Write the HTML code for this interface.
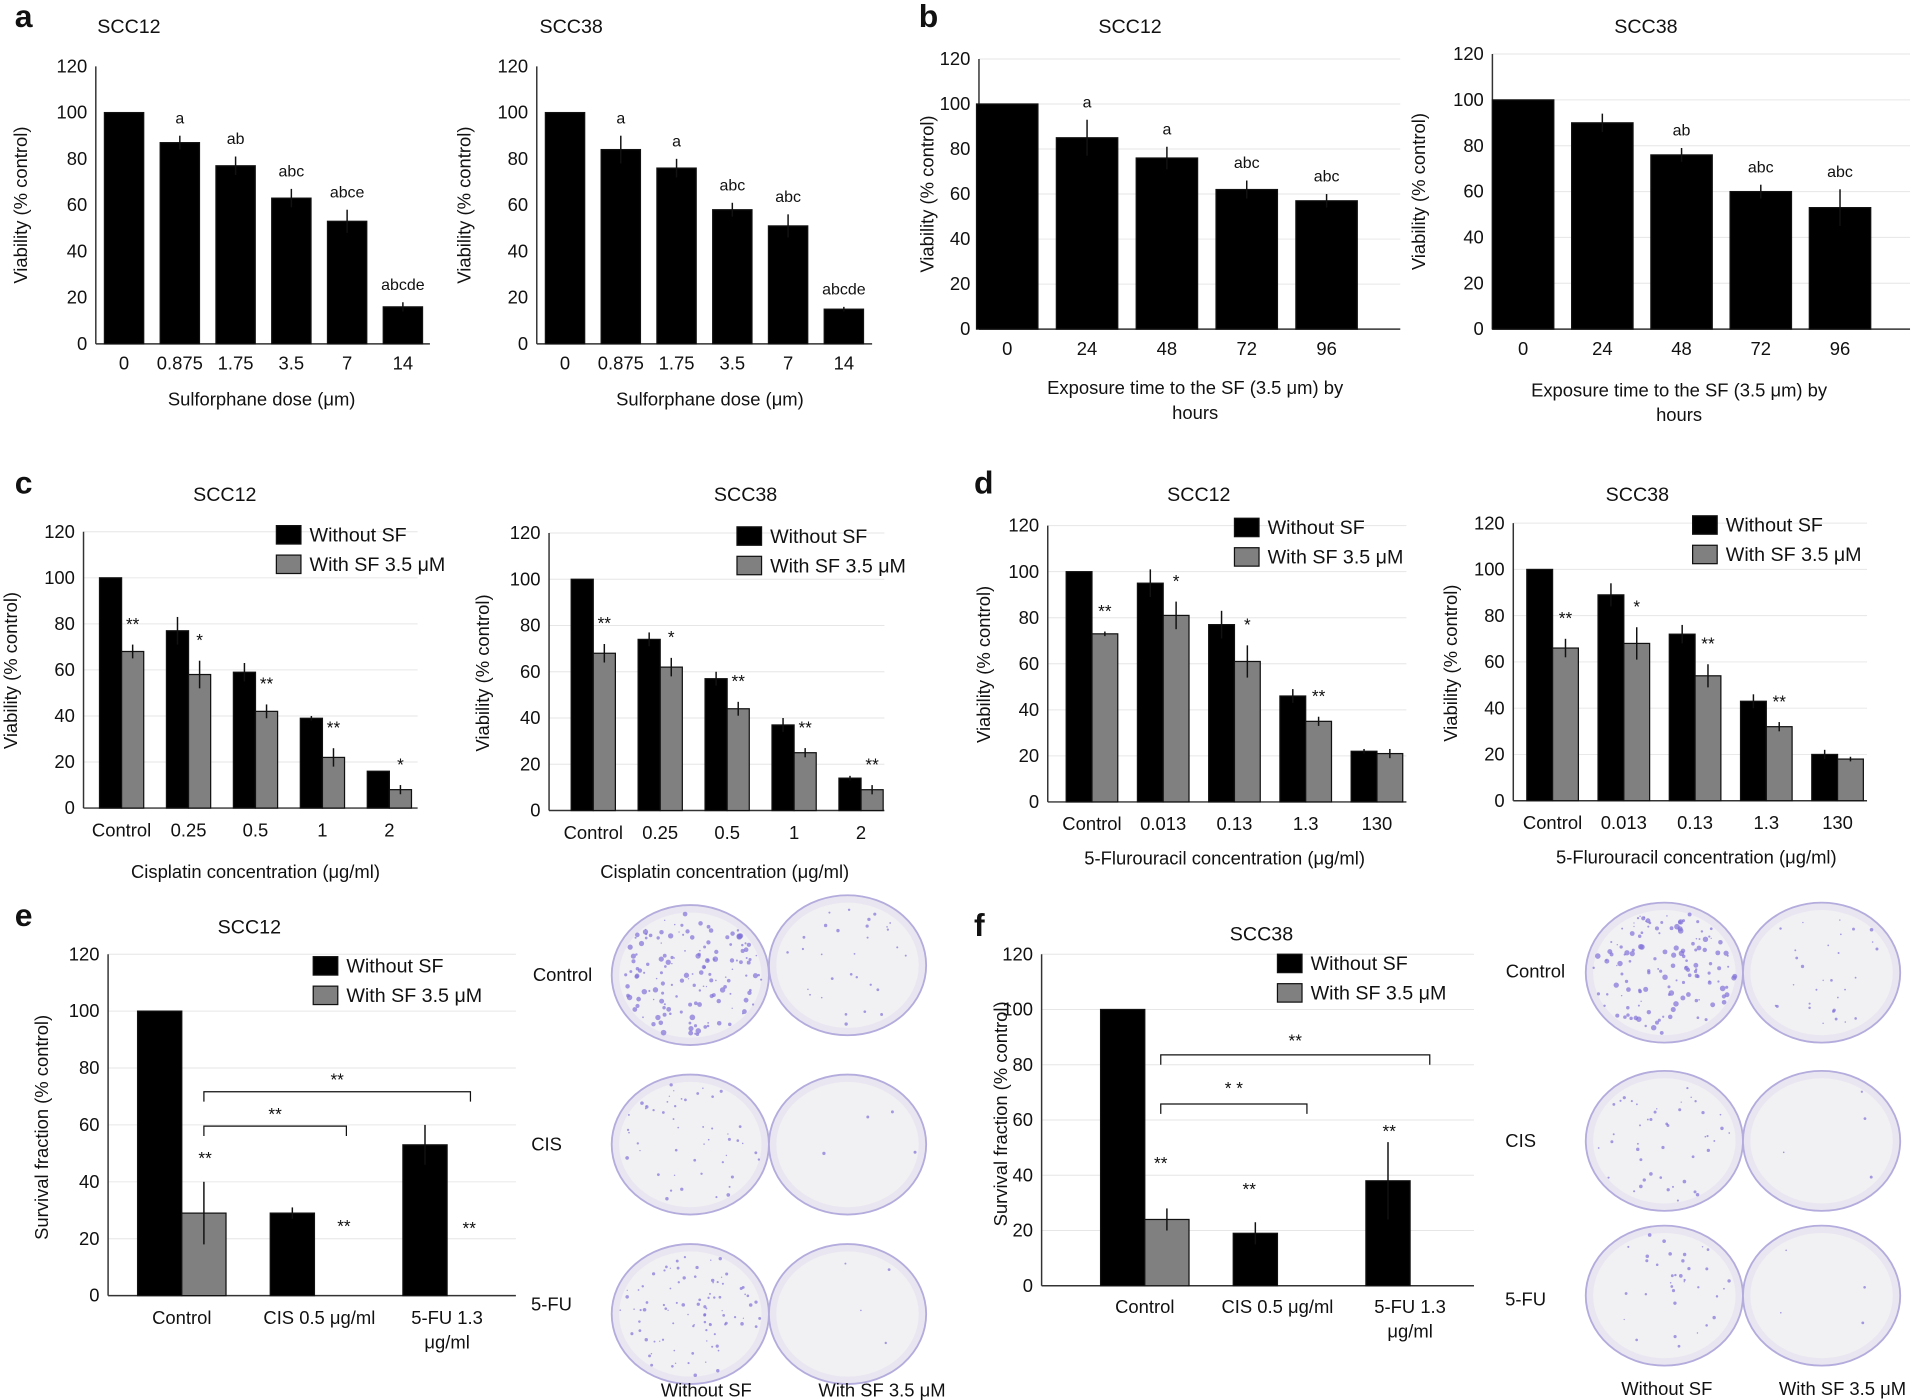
<!DOCTYPE html>
<html><head><meta charset="utf-8"><style>
html,body{margin:0;padding:0;background:#fff;}
svg{display:block;font-family:"Liberation Sans",sans-serif;}
</style></head><body>
<svg id="fig" width="1926" height="1400" viewBox="0 0 1568 1140" preserveAspectRatio="none" xmlns="http://www.w3.org/2000/svg"></svg>
<script>
// ---- data ----
const aCats=["0","0.875","1.75","3.5","7","14"];
const a1Vals=[100,87,77,63,53,16];const a1Err=[0,3,4,4,5,2];const a1Lab=["","a","ab","abc","abce","abcde"];
const a2Vals=[100,84,76,58,51,15];const a2Err=[0,6,4,3,5,1];const a2Lab=["","a","a","abc","abc","abcde"];
const bCats=["0","24","48","72","96"];
const b1Vals=[100,85,76,62,57];const b1Err=[0,8,5,4,3];const b1Lab=["","a","a","abc","abc"];
const b2Vals=[100,90,76,60,53];const b2Err=[0,4,3,3,8];const b2Lab=["","","ab","abc","abc"];
const cCats=["Control","0.25","0.5","1","2"];
const c1Without=[100,77,59,39,16];const c1WithoutErr=[0,6,4,1,0];
const c1With=[68,58,42,22,8];const c1WithErr=[3,6,3,4,2];const c1Stars=["**","*","**","**","*"];
const c2Without=[100,74,57,37,14];const c2WithoutErr=[0,3,3,3,1];
const c2With=[68,62,44,25,9];const c2WithErr=[4,4,3,2,2];const c2Stars=["**","*","**","**","**"];
const dCats=["Control","0.013","0.13","1.3","130"];
const d1Without=[100,95,77,46,22];const d1WithoutErr=[0,6,6,3,1];
const d1With=[73,81,61,35,21];const d1WithErr=[1,6,7,2,2];const d1Stars=["**","*","*","**",""];
const d2Without=[100,89,72,43,20];const d2WithoutErr=[0,5,4,3,2];
const d2With=[66,68,54,32,18];const d2WithErr=[4,7,5,2,1];const d2Stars=["**","*","**","**",""];
const eCats=["Control","CIS 0.5 μg/ml","5-FU 1.3"];
const eWithout=[100,29,53];const eWithoutErr=[0,2,7];
const eWith=[29,0,0];const eWithErr=[11,0,0];const eStars=["**","**","**"];
const fCats=["Control","CIS 0.5 μg/ml","5-FU 1.3"];
const fWithout=[100,19,38];const fWithoutErr=[0,4,14];
const fWith=[24,0,0];const fWithErr=[4,0,0];
const ticks=[0,20,40,60,80,100,120];

const NS="http://www.w3.org/2000/svg";const svg=document.getElementById('fig');
function el(t,at,parent){const e=document.createElementNS(NS,t);for(const k in at)e.setAttribute(k,at[k]);(parent||svg).appendChild(e);return e;}
function txt(x,y,s,size,name,opts){opts=opts||{};const t=el('text',{x:x,y:y,'font-size':size,'text-anchor':opts.anchor||'middle',fill:'#111','font-weight':opts.bold?'bold':'normal'});if(opts.rot)t.setAttribute('transform','rotate(-90 '+x+' '+y+')');t.textContent=s;


return t;}

function axes(c){
  const g=el('g',{});
  
  
  c.g=g;c.y=v=>c.y0-(c.y0-c.y120)*v/120;
  ticks.forEach(t=>{
    if(t>0){const l=el('line',{x1:c.ax,x2:c.xEnd,y1:c.y(t),y2:c.y(t),stroke:c.grid||'#e6e6e6','stroke-width':0.8},g);
    
    }
    txt(c.ax-7,c.y(t)+5,String(t),15,'y-tick-label',{anchor:'end'});
  });
  const ya=el('line',{x1:c.ax,x2:c.ax,y1:c.y120,y2:c.y0,stroke:'#333','stroke-width':1.2},g);
  
  
  const xa=el('line',{x1:c.ax,x2:c.xEnd,y1:c.y0,y2:c.y0,stroke:'#333','stroke-width':1.2},g);
  
  
}
function bar(c,x,w,v,err,fill,name){
  if(v<=0)return;
  const r=el('rect',{x:x,y:c.y(v),width:w,height:c.y0-c.y(v),fill:fill,stroke:'#111','stroke-width':1},c.g);
  
  
  if(err>0){const l=el('line',{x1:x+w/2,x2:x+w/2,y1:c.y(v+err),y2:c.y(Math.max(v-err,0)),stroke:'#111','stroke-width':1.2},c.g);
  
  }
}
function single(c,cats,vals,errs,labs){
  axes(c);
  cats.forEach((cat,i)=>{const cx=c.start+i*c.step;
    bar(c,cx-c.w/2,c.w,vals[i],errs[i],'#000','bar-'+cat);
    txt(cx,c.y0+21,cat,15,'x-tick-label');
    if(labs[i])txt(cx,c.y(vals[i]+errs[i])-10,labs[i],13,'significance-label');
  });
}
function grouped(c,cats,v1,e1,v2,e2,stars){
  axes(c);
  cats.forEach((cat,i)=>{const cx=c.start+i*c.step;
    bar(c,cx-c.w,c.w,v1[i],e1[i],'#000','bar-without-sf-'+i);
    bar(c,cx,c.w,v2[i],e2[i],'#808080','bar-with-sf-'+i);
    if(c.labels!==false)txt(cx,c.y0+23,cat,15,'x-tick-label');
    if(stars&&stars[i])txt(cx+c.w/2,c.y(v2[i]+e2[i])-12,stars[i],14,'significance-star');
  });
}
function legend(x,y,name){
  const g=el('g',{});
  
  
  el('rect',{x:x,y:y-12,width:20,height:15,fill:'#000',stroke:'#111'},g);
  txt(x+27,y+1,'Without SF',16,'legend-without-sf',{anchor:'start'});
  el('rect',{x:x,y:y+12,width:20,height:15,fill:'#808080',stroke:'#111'},g);
  txt(x+27,y+25,'With SF 3.5 μM',16,'legend-with-sf',{anchor:'start'});
}
function bracket(x1,x2,y,label,ly,name){
  const p=el('path',{d:`M${x1} ${y+8}V${y}H${x2}V${y+8}`,fill:'none',stroke:'#111','stroke-width':1});
  
  
  txt((x1+x2)/2,ly,label,14,'bracket-significance');
}

// panel letters
[['a',12,22],['b',748,22],['c',12,402],['d',793,402],['e',12,754],['f',793,762]].forEach(p=>txt(p[1],p[2],p[0],26,'panel-letter-'+p[0],{anchor:'start',bold:true}));

// a
txt(105,27,'SCC12',16,'chart-title');txt(465,27,'SCC38',16,'chart-title');
txt(22,167,'Viability (% control)',15,'y-axis-title',{rot:true});
txt(383,167,'Viability (% control)',15,'y-axis-title',{rot:true});
single({name:'chart-a-scc12',ax:78,y0:280,y120:54,xEnd:350,start:101,step:45.4,w:32,grid:'#fff'},aCats,a1Vals,a1Err,a1Lab);
single({name:'chart-a-scc38',ax:437,y0:280,y120:54,xEnd:710,start:460,step:45.4,w:32,grid:'#fff'},aCats,a2Vals,a2Err,a2Lab);
txt(213,330,'Sulforphane dose (μm)',15,'x-axis-title');txt(578,330,'Sulforphane dose (μm)',15,'x-axis-title');

// b
txt(920,27,'SCC12',16,'chart-title');txt(1340,27,'SCC38',16,'chart-title');
txt(760,158,'Viability (% control)',15,'y-axis-title',{rot:true});
txt(1160,156,'Viability (% control)',15,'y-axis-title',{rot:true});
single({name:'chart-b-scc12',ax:797,y0:268,y120:48,xEnd:1140,start:820,step:65,w:50},bCats,b1Vals,b1Err,b1Lab);
single({name:'chart-b-scc38',ax:1215,y0:268,y120:44,xEnd:1555,start:1240,step:64.5,w:50},bCats,b2Vals,b2Err,b2Lab);
txt(973,321,'Exposure time to the SF (3.5 μm) by',15,'x-axis-title');txt(973,341,'hours',15,'x-axis-title');
txt(1367,323,'Exposure time to the SF (3.5 μm) by',15,'x-axis-title');txt(1367,343,'hours',15,'x-axis-title');

// c
txt(183,408,'SCC12',16,'chart-title');txt(607,408,'SCC38',16,'chart-title');
txt(14,546,'Viability (% control)',15,'y-axis-title',{rot:true});
txt(398,548,'Viability (% control)',15,'y-axis-title',{rot:true});
grouped({name:'chart-c-scc12',ax:68,y0:658,y120:433,xEnd:340,start:99,step:54.5,w:18},cCats,c1Without,c1WithoutErr,c1With,c1WithErr,c1Stars);
grouped({name:'chart-c-scc38',ax:447,y0:660,y120:434,xEnd:720,start:483,step:54.5,w:18},cCats,c2Without,c2WithoutErr,c2With,c2WithErr,c2Stars);
legend(225,440,'legend-c-scc12');legend(600,441,'legend-c-scc38');
txt(208,715,'Cisplatin concentration (μg/ml)',15,'x-axis-title');txt(590,715,'Cisplatin concentration (μg/ml)',15,'x-axis-title');

// d
txt(976,408,'SCC12',16,'chart-title');txt(1333,408,'SCC38',16,'chart-title');
txt(806,541,'Viability (% control)',15,'y-axis-title',{rot:true});
txt(1186,540,'Viability (% control)',15,'y-axis-title',{rot:true});
grouped({name:'chart-d-scc12',ax:853,y0:653,y120:428,xEnd:1145,start:889,step:58,w:21},dCats,d1Without,d1WithoutErr,d1With,d1WithErr,d1Stars);
grouped({name:'chart-d-scc38',ax:1232,y0:652,y120:426,xEnd:1520,start:1264,step:58,w:21},dCats,d2Without,d2WithoutErr,d2With,d2WithErr,d2Stars);
legend(1005,434,'legend-d-scc12');legend(1378,432,'legend-d-scc38');
txt(997,704,'5-Flurouracil concentration (μg/ml)',15,'x-axis-title');txt(1381,703,'5-Flurouracil concentration (μg/ml)',15,'x-axis-title');

// e
txt(203,760,'SCC12',16,'chart-title');
txt(39,918,'Survival fraction (% control)',15,'y-axis-title',{rot:true});
grouped({name:'chart-e-scc12',ax:88,y0:1055,y120:777,xEnd:420,start:148,step:108,w:36,labels:false},eCats,eWithout,eWithoutErr,eWith,eWithErr,null);
txt(148,1078,'Control',15,'x-tick-label');txt(260,1078,'CIS 0.5 μg/ml',15,'x-tick-label');txt(364,1078,'5-FU 1.3',15,'x-tick-label');txt(364,1098,'μg/ml',15,'x-tick-label');
txt(167,948,'**',14,'significance-star');txt(280,1003,'**',14,'significance-star');txt(382,1005,'**',14,'significance-star');
bracket(166,282,917,'**',912,'bracket-cis');bracket(166,383,889,'**',884,'bracket-5fu');
legend(255,791,'legend-e');

// f
txt(1027,766,'SCC38',16,'chart-title');
txt(820,907,'Survival fraction (% control)',15,'y-axis-title',{rot:true});
grouped({name:'chart-f-scc38',ax:848,y0:1047,y120:777,xEnd:1200,start:932,step:108,w:36,labels:false},fCats,fWithout,fWithoutErr,fWith,fWithErr,null);
txt(932,1069,'Control',15,'x-tick-label');txt(1040,1069,'CIS 0.5 μg/ml',15,'x-tick-label');txt(1148,1069,'5-FU 1.3',15,'x-tick-label');txt(1148,1089,'μg/ml',15,'x-tick-label');
txt(945,952,'**',14,'significance-star');txt(1017,973,'**',14,'significance-star');txt(1131,926,'**',14,'significance-star');
bracket(945,1064,899,'* *',891,'bracket-cis');bracket(945,1164,859,'**',852,'bracket-5fu');
legend(1040,789,'legend-f');

// plates (texture only)
let seed=7;function rnd(){seed=(seed*16807)%2147483647;return seed/2147483647;}
function plate(cx,cy,density,name){
  const g=el('g',{});
  
  
  el('ellipse',{cx:cx,cy:cy,rx:64,ry:57,fill:'#e9e6f1',stroke:'#b4acdc','stroke-width':1.5},g);
  el('ellipse',{cx:cx,cy:cy,rx:58,ry:51,fill:'#f1f0f2'},g);
  for(let i=0;i<density;i++){const a=rnd()*6.283,r=Math.sqrt(rnd());
    el('circle',{cx:cx+Math.cos(a)*r*58,cy:cy+Math.sin(a)*r*51,r:0.5+rnd()*(density>100?1.8:1.0),fill:'#8070d8','fill-opacity':0.7},g);}
}
[[562,794,150],[690,786,30],[562,932,50],[690,932,4],[562,1070,90],[690,1070,4]].forEach((p,i)=>plate(p[0],p[1],p[2],'plate-e-'+i));
[[1355,792,140],[1483,792,30],[1355,929,45],[1483,929,4],[1355,1055,35],[1483,1055,4]].forEach((p,i)=>plate(p[0],p[1],p[2],'plate-f-'+i));
txt(458,799,'Control',15,'row-label-control');txt(445,937,'CIS',15,'row-label-cis');txt(449,1067,'5-FU',15,'row-label-5fu');
txt(575,1137,'Without SF',15,'column-label');txt(718,1137,'With SF 3.5 μM',15,'column-label');
txt(1250,796,'Control',15,'row-label-control');txt(1238,934,'CIS',15,'row-label-cis');txt(1242,1063,'5-FU',15,'row-label-5fu');
txt(1357,1136,'Without SF',15,'column-label');txt(1500,1136,'With SF 3.5 μM',15,'column-label');
</script>
</body></html>
